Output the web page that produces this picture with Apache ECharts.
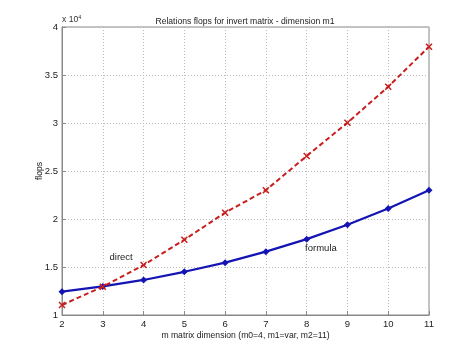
<!DOCTYPE html>
<html>
<head>
<meta charset="utf-8">
<script src="https://cdn.jsdelivr.net/npm/echarts@6/dist/echarts.min.js"></script>
<style>html,body{margin:0;padding:0;background:#fff;}#c{width:474px;height:355px;}</style>
</head>
<body>
<div id="c"></div>
<script>
var dims = [2, 3, 4, 5, 6, 7, 8, 9, 10, 11];
var directFlops = [11040, 12950, 15200, 17840, 20660, 23000, 26560, 30030, 33780, 37950];
var formulaFlops = [12430, 12980, 13650, 14500, 15450, 16600, 17900, 19400, 21100, 23000];
var yTicks = [1, 1.5, 2, 2.5, 3, 3.5, 4];
var titleText = 'Relations flops for invert matrix - dimension m1';
var xLabel = 'm matrix dimension (m0=4, m1=var, m2=11)';
var yLabel = 'flops';
var annDirect = {name: 'direct', x: 3.45, y: 16000};
var annFormula = {name: 'formula', x: 8.35, y: 16900};

var chart = echarts.init(document.getElementById('c'), null, {renderer: 'canvas'});
var font = 'Liberation Sans, Arial, sans-serif';
var xMark = 'path://M0,0L10,10M10,0L0,10';
function pairs(arr) { return dims.map(function (d, i) { return [d, arr[i]]; }); }

chart.setOption({
  animation: false,
  backgroundColor: '#fff',
  title: {
    text: titleText, left: 240, textAlign: 'center', top: 12,
    textStyle: {fontFamily: font, fontSize: 8.6, fontWeight: 'normal', color: '#222'}
  },
  grid: {left: 62, right: 45, top: 27, bottom: 40, show: true, borderColor: '#888', borderWidth: 1},
  graphic: [{
    type: 'text', left: 62, top: 14,
    style: {
      text: 'x 10{s|4}', fontFamily: font, fontSize: 8.6, fill: '#333',
      rich: {s: {fontSize: 5.5, verticalAlign: 'top', padding: [0, 0, 6, 0], fontFamily: font, fill: '#333'}}
    }
  }],
  xAxis: {
    type: 'value', min: 2, max: 11, interval: 1,
    name: xLabel, nameLocation: 'middle', nameGap: 16, nameMoveOverlap: false,
    nameTextStyle: {fontFamily: font, fontSize: 8.6, color: '#222'},
    axisLine: {show: true, lineStyle: {color: '#888'}},
    axisTick: {inside: true, length: 4, lineStyle: {color: '#888'}},
    axisLabel: {fontFamily: font, fontSize: 9.5, color: '#222', margin: 4},
    splitLine: {show: true, lineStyle: {color: '#bbb', type: [1, 2]}}
  },
  yAxis: {
    type: 'value', min: 10000, max: 40000, interval: 5000,
    name: yLabel, nameLocation: 'middle', nameGap: 18, nameRotate: 90, nameMoveOverlap: false,
    nameTextStyle: {fontFamily: font, fontSize: 8.6, color: '#222'},
    axisLine: {show: true, lineStyle: {color: '#888'}},
    axisTick: {inside: true, length: 4, lineStyle: {color: '#888'}},
    axisLabel: {fontFamily: font, fontSize: 9.5, color: '#222', margin: 4,
      formatter: function (v) { var t = v / 10000; return yTicks.indexOf(t) >= 0 ? String(t) : ''; }},
    splitLine: {show: true, lineStyle: {color: '#bbb', type: [1, 2]}}
  },
  series: [{
    name: 'direct', type: 'line', data: pairs(directFlops),
    symbol: xMark, symbolSize: 6, showAllSymbol: true,
    lineStyle: {color: '#c81e1e', width: 2, type: [5, 3]},
    itemStyle: {color: 'rgba(0,0,0,0)', borderColor: '#c81e1e', borderWidth: 1.5},
    markPoint: {
      symbol: 'circle', symbolSize: 0,
      data: [{coord: [annDirect.x, annDirect.y], value: annDirect.name}],
      label: {show: true, formatter: '{c}', fontFamily: font, fontSize: 9.5, color: '#222', position: 'inside'}
    },
    z: 3
  }, {
    name: 'formula', type: 'line', data: pairs(formulaFlops),
    symbol: 'diamond', symbolSize: 7, showAllSymbol: true,
    lineStyle: {color: '#1414b4', width: 2.2},
    itemStyle: {color: '#1414b4'},
    markPoint: {
      symbol: 'circle', symbolSize: 0,
      data: [{coord: [annFormula.x, annFormula.y], value: annFormula.name}],
      label: {show: true, formatter: '{c}', fontFamily: font, fontSize: 9.5, color: '#222', position: 'inside'}
    },
    z: 2
  }]
});
</script>
</body>
</html>
